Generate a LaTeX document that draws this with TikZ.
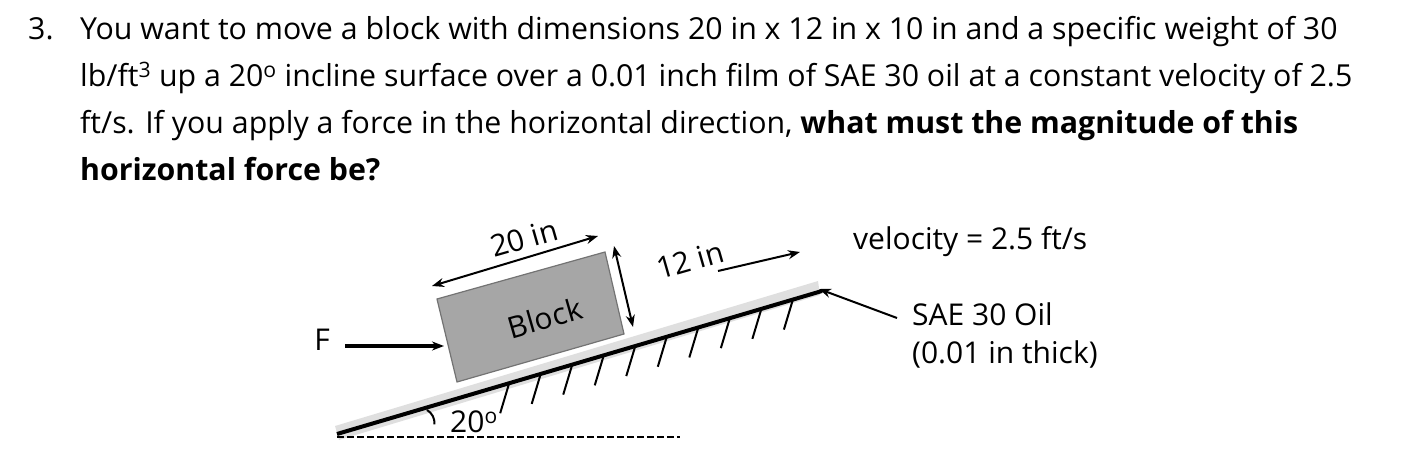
\documentclass[tikz,border=0pt]{standalone}
\usepackage{fontspec}
\setmainfont{Open Sans}
\usetikzlibrary{arrows.meta,calc}
\begin{document}
\begin{tikzpicture}[x=1pt,y=-1pt,
  txt/.style={anchor=base west,inner sep=0pt,font=\fontsize{30.3}{34}\selectfont},
  lab/.style={inner sep=0pt,font=\fontsize{30}{34}\selectfont},
  arr/.style={-{Stealth[length=12pt,width=9pt]},line width=2pt},
  darr/.style={{Stealth[length=12pt,width=9pt]}-{Stealth[length=12pt,width=9pt]},line width=2pt}]
\useasboundingbox (0,0) rectangle (1409,454);
\node[txt] (n3) at (28,40) {3.};
\node[txt] (l1) at (80,40) {You want to move a block with dimensions 20 in x 12 in x 10 in and a specific weight of 30};
\node[txt] (l2) at (80,87) {lb/ft\textsuperscript{3} up a 20\textsuperscript{o} incline surface over a 0.01 inch film of SAE 30 oil at a constant velocity of 2.5};
\node[txt] (l3) at (80,134) {ft/s. If you apply a force in the horizontal direction, \textbf{what must the magnitude of this}};
\node[txt] (l4) at (80,181) {\textbf{horizontal force be?}};
% oil film band
\fill[gray!25] (335,426) -- (818,281) -- (820,295) -- (339,440) -- cycle;
% incline
\coordinate (A) at (337,434);
\coordinate (B) at (822,291);
\draw[line width=4pt] (A) -- (B);
\draw[dash pattern=on 7pt off 3pt,line width=2pt] (337,437) -- (680,437);
% hatches
\foreach \t in {0.355,0.42,0.485,0.55,0.615,0.68,0.745,0.81,0.875,0.94} {
  \draw[line width=2pt] ($(A)!\t!(B)$) -- ++(-9,30);
}
% angle
\draw[line width=2pt] (427,410) arc[start angle=-60,end angle=5,radius=15];
\node[lab,anchor=west] (ang) at (450,422) {20\textsuperscript{o}};
% block
\filldraw[fill=gray!70,draw=gray!90!black,line width=1.2pt] (437,299) -- (605,252) -- (624,334) -- (457,382) -- cycle;
\node[lab,rotate=16] (blk) at (545,318) {Block};
% F
\node[lab] (F) at (322,340) {F};
\coordinate (f1) at (345,346);
\coordinate (f2) at (444,346);
\draw[arr,line width=3.5pt] (f1) -- (f2);
% dims
\coordinate (d1) at (432,286); \coordinate (d2) at (598,236);
\draw[darr] (d1) -- (d2);
\node[lab,rotate=16] (w) at (524,238) {20 in};
\coordinate (h1) at (614,246); \coordinate (h2) at (633,327);
\draw[darr] (h1) -- (h2);
\node[lab,rotate=16] (h) at (690,260) {12 in};
% velocity
\coordinate (v1) at (718,271); \coordinate (v2) at (800,252);
\draw[arr] (v1) -- (v2);
\node[lab,anchor=west] (vel) at (853,242) {velocity = 2.5 ft/s};
% oil
\node[lab,anchor=north west,align=left,font=\fontsize{30}{38}\selectfont] (oil) at (912,303) {SAE 30 Oil\\(0.01 in thick)};
\coordinate (o1) at (897,318);
\draw[arr] (o1) -- (819,289);
\end{tikzpicture}
\end{document}
